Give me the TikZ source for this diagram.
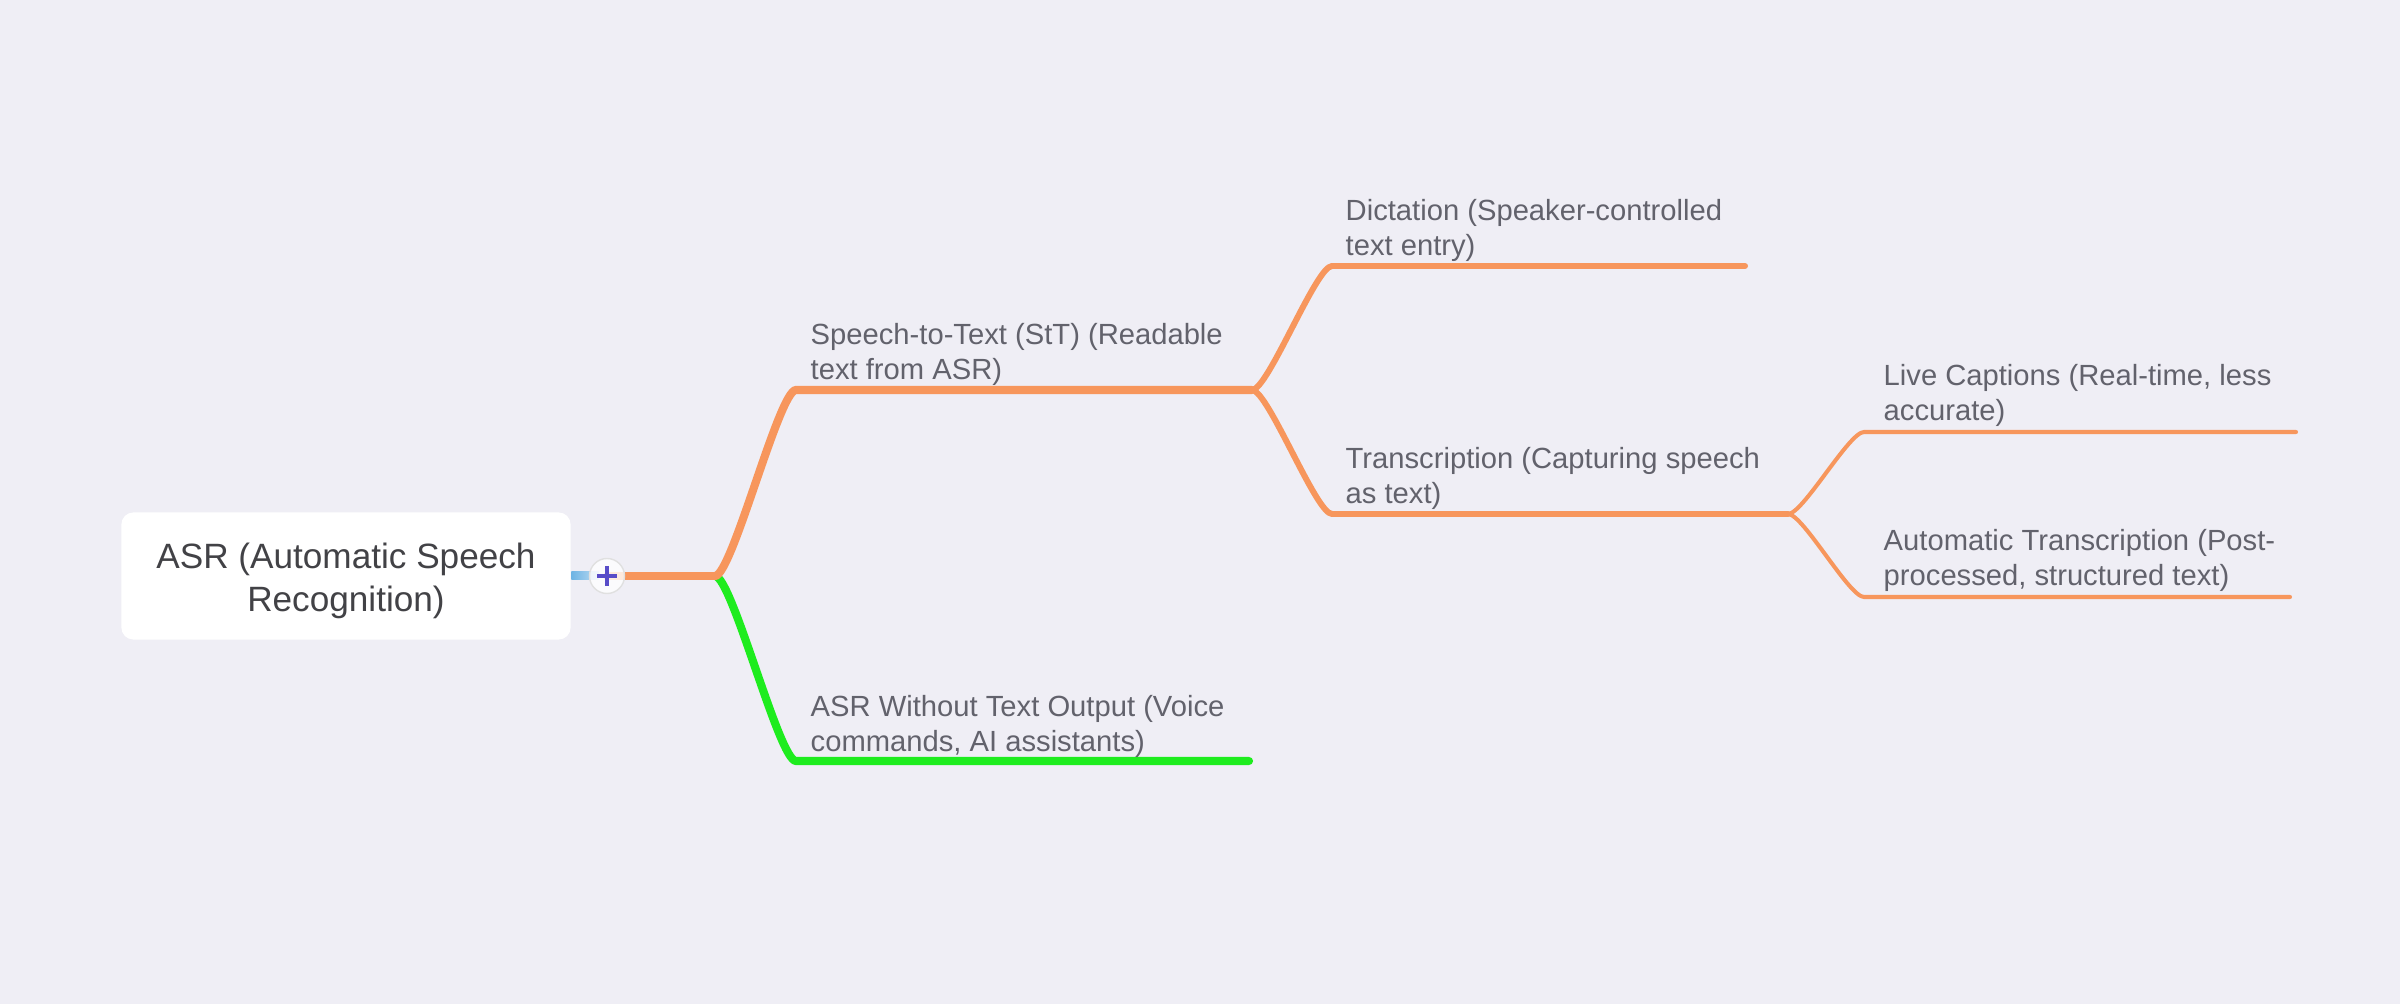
\documentclass[tikz,border=0pt]{standalone}
\usepackage{fontspec}
\setmainfont{Liberation Sans}
\usetikzlibrary{calc}
\definecolor{bg}{RGB}{239,238,245}
\definecolor{orangeline}{RGB}{247,150,92}
\definecolor{greenline}{RGB}{30,236,30}
\definecolor{labelgray}{RGB}{98,98,108}
\definecolor{rootgray}{RGB}{66,66,70}
\definecolor{plusviolet}{RGB}{88,76,200}
\definecolor{stubblueA}{RGB}{110,180,228}
\definecolor{stubblueB}{RGB}{190,220,242}
\begin{document}
\begin{tikzpicture}[x=0.01cm,y=-0.01cm,
  lvlA/.style={line width=2.3pt, line cap=round},
  lvlB/.style={line width=1.7pt, line cap=round},
  lvlC/.style={line width=1.15pt, line cap=round},
  branchlabel/.style={font=\fontsize{8.3}{10}\selectfont, text=labelgray, align=left, inner sep=0pt, anchor=south west},
  rootbox/.style={fill=white, rounded corners=0.12cm, minimum width=4.49cm, minimum height=1.27cm, inner sep=0pt},
  roottext/.style={inner sep=0pt, align=center, text=rootgray, font=\fontsize{10}{12}\selectfont},
  plusbtn/.style={circle, fill=white, fill opacity=0.8, draw=black!12, line width=0.4pt, minimum size=0.35cm, inner sep=0pt}
]
\fill[bg] (0,0) rectangle (2400,1004);
\useasboundingbox (0,0) rectangle (2400,1004);

% root
\node[rootbox] (root) at (346,576) {};
\node[roottext] (roottxt) at ($(root.center)+(0,5)$) {ASR (Automatic Speech\\Recognition)};

% coordinates
\coordinate (plusc) at (607,576);
\coordinate (j0) at (715,576);
\coordinate (sttA) at (796,390);
\coordinate (sttB) at (1252,390);
\coordinate (asrA) at (796,761);
\coordinate (asrB) at (1249,761);
\coordinate (dicA) at (1332,266);
\coordinate (dicB) at (1745,266);
\coordinate (traA) at (1332,514);
\coordinate (traB) at (1788,514);
\coordinate (livA) at (1864,432);
\coordinate (livB) at (2296,432);
\coordinate (autA) at (1864,597);
\coordinate (autB) at (2290,597);

% blue stub
\shade[left color=stubblueA, right color=stubblueB] (root.east) ++(0,-4) rectangle ($(plusc)+(-8,4)$);

% level 1
\draw[greenline, lvlA] (j0) .. controls ($(j0)+(17,0)$) and ($(asrA)+(-17,0)$) .. (asrA) -- (asrB);
\draw[orangeline, lvlA] (plusc) -- (j0);
\draw[orangeline, lvlA] (j0) .. controls ($(j0)+(17,0)$) and ($(sttA)+(-17,0)$) .. (sttA) -- (sttB);

% level 2
\draw[orangeline, lvlB] (sttB) .. controls ($(sttB)+(16,0)$) and ($(dicA)+(-16,0)$) .. (dicA) -- (dicB);
\draw[orangeline, lvlB] (sttB) .. controls ($(sttB)+(16,0)$) and ($(traA)+(-16,0)$) .. (traA) -- (traB);

% level 3
\draw[orangeline, lvlC] (traB) .. controls ($(traB)+(15,0)$) and ($(livA)+(-15,0)$) .. (livA) -- (livB);
\draw[orangeline, lvlC] (traB) .. controls ($(traB)+(15,0)$) and ($(autA)+(-15,0)$) .. (autA) -- (autB);

% plus button
\node[plusbtn] (plus) at (plusc) {};
\draw[plusviolet, line width=0.9pt] ($(plus.center)+(-10,0)$) -- ($(plus.center)+(10,0)$);
\draw[plusviolet, line width=0.9pt] ($(plus.center)+(0,-10)$) -- ($(plus.center)+(0,10)$);

% labels
\node[branchlabel] (stt) at ($(sttA)+(14,-4)$) {Speech-to-Text (StT) (Readable\\text from ASR)};
\node[branchlabel] (asr) at ($(asrA)+(14,-3)$) {ASR Without Text Output (Voice\\commands, AI assistants)};
\node[branchlabel] (dic) at ($(dicA)+(13,-4)$) {Dictation (Speaker-controlled\\text entry)};
\node[branchlabel] (tra) at ($(traA)+(13,-4)$) {Transcription (Capturing speech\\as text)};
\node[branchlabel] (liv) at ($(livA)+(19,-5)$) {Live Captions (Real-time, less\\accurate)};
\node[branchlabel] (aut) at ($(autA)+(19,-5)$) {Automatic Transcription (Post-\\processed, structured text)};
\end{tikzpicture}
\end{document}
